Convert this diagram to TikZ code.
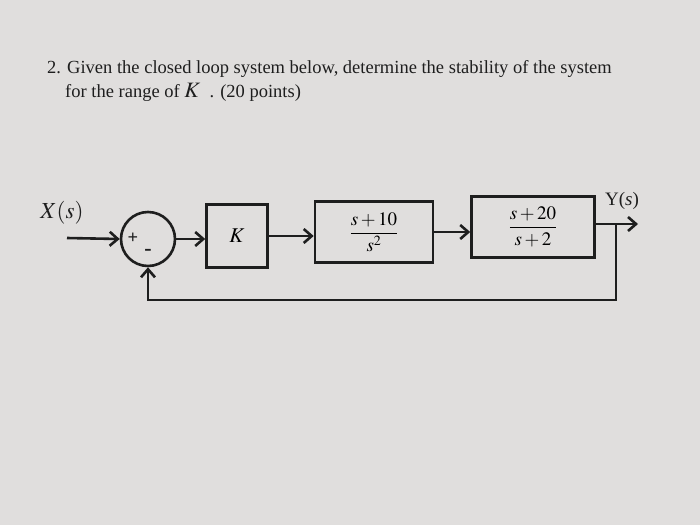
\documentclass[tikz,border=0pt]{standalone}
\usepackage{amsmath}
\usepackage{mathptmx}
\usepackage{fontspec}
\setmainfont{Liberation Serif}
\usetikzlibrary{arrows.meta}
\usetikzlibrary{positioning}

\definecolor{paper}{RGB}{224,222,221}
\definecolor{ink}{RGB}{30,30,30}

\tikzset{
  block/.style={draw=ink, line width=2.6pt, minimum height=61pt, inner sep=2pt},
  sum/.style={draw=ink, line width=2.6pt, circle, minimum size=54pt, inner sep=0pt},
  sig/.style={draw=ink, line width=2.6pt, -{Straight Barb[length=8pt,width=14pt]}},
  txt/.style={font=\fontsize{18.5}{22}\selectfont, text=ink, inner sep=0pt},
}

\begin{document}
\begin{tikzpicture}[x=1pt, y=-1pt]
    \fill[paper] (0,0) rectangle (700,525);
    \useasboundingbox (0,0) rectangle (700,525);
    % question text
    \node[txt, anchor=base west] (q1) at (47,73)
      {2. Given the closed loop system below, determine the stability of the system};
    \node[txt, anchor=base west] (q2) at (65,97)
      {for the range of {\fontsize{22}{22}\selectfont$K$} \ . (20 points)};
    % blocks
    \node[sum] (sum) at (148,239) {};
    \node[txt] (plus) at (133,238) {\textbf{+}};
    \node[txt, font=\fontsize{22}{22}\selectfont] (minus) at (148,252) {\textbf{-}};
    \node[block, minimum width=61pt, minimum height=63pt] (gain) at (237,236)
      {\fontsize{21}{22}\selectfont$K$};
    \node[block, minimum width=118pt] (plant) at (374,232)
      {\fontsize{19}{22}\selectfont$\dfrac{s+10}{s^2}$};
    \node[block, minimum width=123pt] (comp) at (533,227)
      {\fontsize{19}{22}\selectfont$\dfrac{s+20}{s+2}$};
    \coordinate (in) at (67,238);
    \coordinate (out) at (638,224);
    \coordinate (branch) at (616,224);
    \coordinate (low) at (616,300);
    % labels
    \node[txt, font=\fontsize{23}{24}\selectfont] (xs) at (62,213) {$X(s)$};
    \node[txt, font=\fontsize{19}{22}\selectfont] (ys) at (622,201) {Y(\textit{s})};
    % signals
    \draw[sig] (in) -- (sum.west);
    \draw[sig] (sum.east) -- (gain.west |- sum.east);
    \draw[sig] (gain.east) -- (plant.west |- gain.east);
    \draw[sig] (plant.east) -- (comp.west |- plant.east);
    \draw[sig] (comp.east |- out) -- (out);
    \draw[sig] (branch) -- (low) -| (sum.south);
\end{tikzpicture}
\end{document}
